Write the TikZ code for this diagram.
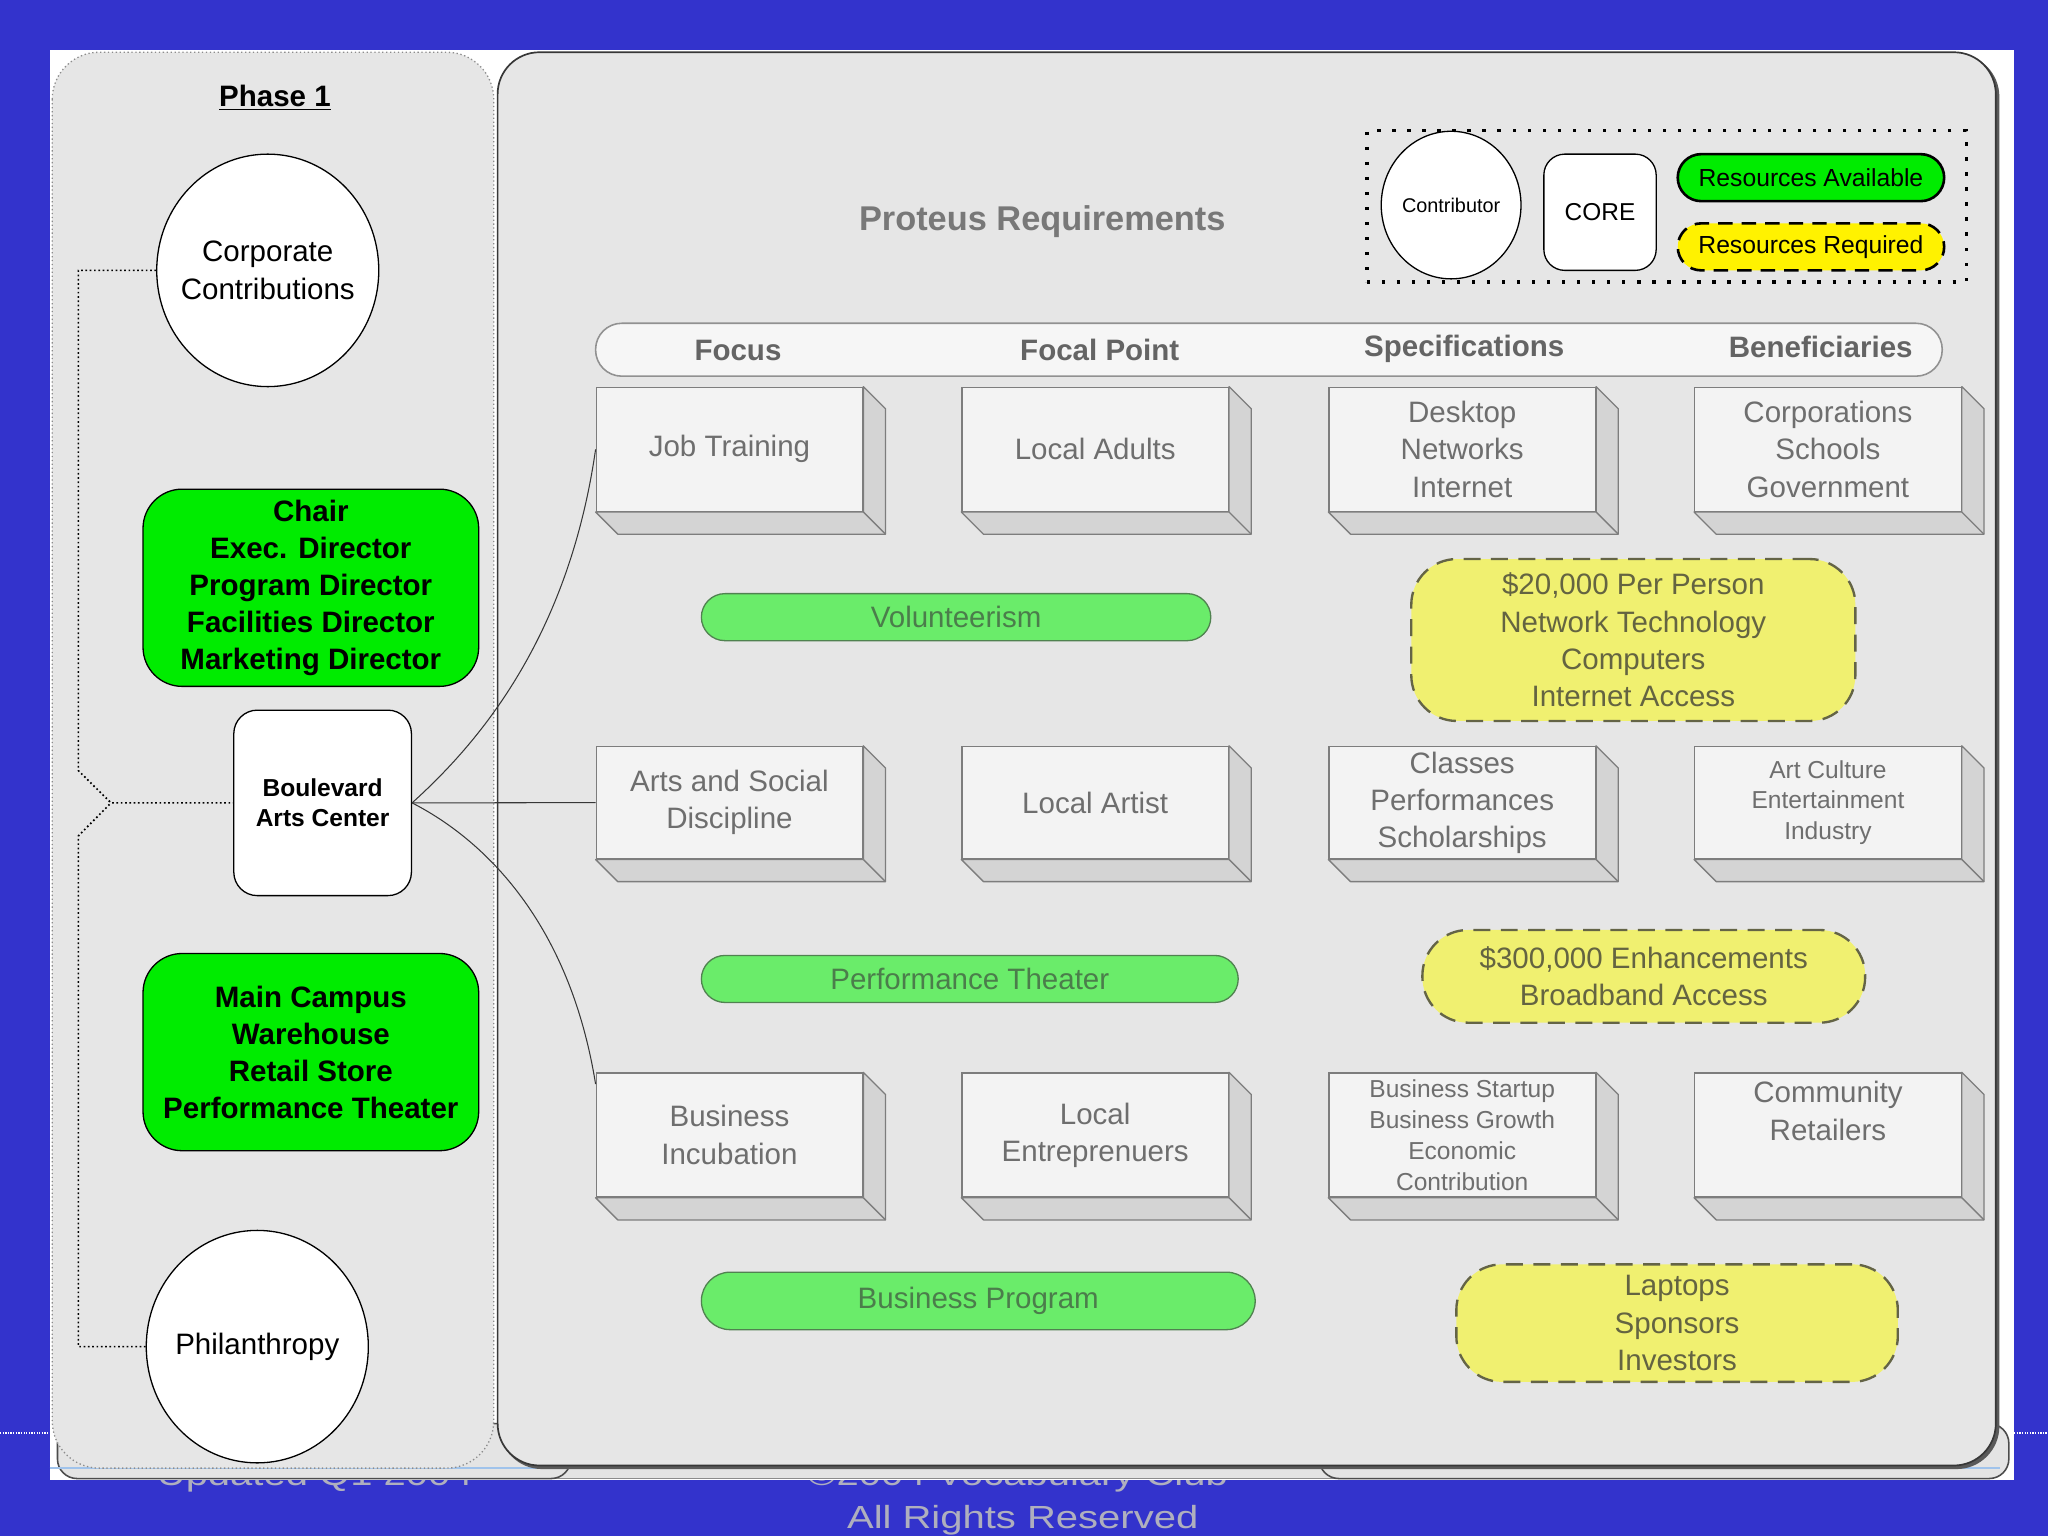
\documentclass[tikz,border=0pt]{standalone}
\usepackage{fontspec}
\setmainfont{Liberation Sans}
\newfontfamily\footfont[FakeStretch=1.25]{Liberation Sans}
\usetikzlibrary{shapes.geometric}
\definecolor{bgblue}{RGB}{51,51,204}
\definecolor{panel}{RGB}{230,230,230}
\definecolor{panelline}{RGB}{55,55,55}
\definecolor{frontc}{RGB}{243,243,243}
\definecolor{sidec}{RGB}{212,212,212}
\definecolor{boxline}{RGB}{125,125,125}
\definecolor{boxtext}{RGB}{110,110,110}
\definecolor{hdrfill}{RGB}{246,246,246}
\definecolor{hdrline}{RGB}{145,145,145}
\definecolor{hdrtext}{RGB}{100,100,100}
\definecolor{strong}{RGB}{0,236,0}
\definecolor{pill}{RGB}{106,236,106}
\definecolor{pillline}{RGB}{80,130,80}
\definecolor{pilltext}{RGB}{75,125,75}
\definecolor{yfill}{RGB}{240,240,112}
\definecolor{yline}{RGB}{100,100,70}
\definecolor{ytext}{RGB}{100,100,65}
\definecolor{foottext}{RGB}{175,175,190}
\definecolor{lightblue}{RGB}{160,195,235}
\definecolor{footbar}{RGB}{228,228,228}
\newcommand{\tdbox}[6]{%
  \node[front, #5, minimum height=#4pt] (#1) at (#2,#3) {#6};
  \filldraw[sidef] (#1.north east) -- ([shift={(17,17)}]#1.north east) -- ([shift={(17,17)}]#1.south east) -- ([shift={(17,17)}]#1.south west) -- (#1.south west) -- (#1.south east) -- cycle;
  \draw[sidef] (#1.south east) -- ([shift={(17,17)}]#1.south east);
}
\begin{document}
\begin{tikzpicture}[x=1pt,y=-1pt,
  every node/.style={inner sep=0pt, align=center},
  contrib/.style={ellipse, draw=black, line width=1pt, fill=white},
  ctext/.style={font=\fontsize{22.6}{28.5}\selectfont},
  greenbox/.style={rectangle, rounded corners=30pt, draw=black, line width=1pt, fill=strong, minimum width=257pt, minimum height=151pt, font=\bfseries\fontsize{22.6}{28.3}\selectfont},
  corebox/.style={rectangle, draw=black, line width=1pt, fill=white},
  front/.style={rectangle, draw=boxline, line width=1pt, fill=frontc, text=boxtext, minimum width=204pt, anchor=north west},
  sidef/.style={fill=sidec, draw=boxline, line width=1pt, line join=round},
  bigtxt/.style={font=\fontsize{22.6}{28.5}\selectfont},
  smalltxt/.style={font=\fontsize{18.8}{23.6}\selectfont},
  pillbox/.style={rectangle, draw=pillline, line width=1pt, fill=pill, text=pilltext, font=\fontsize{22.6}{28.5}\selectfont},
  ybox/.style={rectangle, rounded corners=35pt, draw=yline, fill=yfill, line width=1.8pt, dash pattern=on 13pt off 8pt, text=ytext, font=\fontsize{22.6}{28.5}\selectfont},
  hdrlabel/.style={font=\bfseries\fontsize{22.6}{28.5}\selectfont, text=hdrtext},
  dotline/.style={line width=1.3pt, dash pattern=on 1.3pt off 2pt, draw=black},
  linkline/.style={line width=0.8pt, draw=panelline},
  foot/.style={font=\footfont\fontsize{24.5}{30}\selectfont, text=foottext, anchor=base}]
\useasboundingbox (0,0) rectangle (1568,1176);
\fill[bgblue] (0,0) rectangle (1568,1176);
\draw[white, line width=1.5pt, dash pattern=on 1pt off 1pt] (0,1097) -- (1568,1097);
% footer
\node[foot] (upd) at (241,1137) {Updated Q1 2004};
\node[foot] (cpy) at (779,1137) {\textcopyright2004 Vocabulary Club};
\node[foot] (arr) at (783,1170) {All Rights Reserved};
\fill[white] (38,38) rectangle (1542,1133);
\filldraw[fill=footbar, draw=black!45, line width=1pt] (424,1100) rectangle (1025,1132);
\filldraw[fill=footbar, draw=black!70, line width=1.2pt, rounded corners=15pt] (44,1090) rectangle (437,1132);
\filldraw[fill=footbar, draw=black!70, line width=1.2pt, rounded corners=15pt] (1010,1090) rectangle (1538,1132);
\draw[lightblue, line width=1.2pt] (38,1124) -- (1531,1124);
% panels
\filldraw[fill=panel, draw=black!45, line width=1pt, dash pattern=on 1pt off 2pt, rounded corners=36pt] (40,40) rectangle (378,1124);
\filldraw[fill=black!65, draw=black!65, line width=1.5pt, rounded corners=32pt] (383,42) rectangle (1530,1124);
\filldraw[fill=panel, draw=panelline, line width=1.3pt, rounded corners=32pt] (381,40) rectangle (1528,1122);
% left column
\node[font=\bfseries\fontsize{22.6}{28}\selectfont, anchor=base] (ph1) at (210.5,81.7) {\underline{Phase 1}};
\node[contrib, minimum width=170pt, minimum height=178pt] (cc) at (205,207) {};
\node[ctext] (cct) at (cc.center) {Corporate\\Contributions};
\node[greenbox] (chair) at (238,450) {Chair\\Exec. Director\\Program Director\\Facilities Director\\Marketing Director};
\node[corebox, rounded corners=18pt, minimum width=136pt, minimum height=142pt, font=\bfseries\fontsize{18.8}{23}\selectfont] (bac) at (247,614.7) {Boulevard\\Arts Center};
\node[greenbox] (camp) at (238,805.5) {Main Campus\\Warehouse\\Retail Store\\Performance Theater};
\node[contrib, minimum width=170pt, minimum height=178pt] (phil) at (197,1031) {};
\node[ctext] (philt) at (phil.center) {Philanthropy};
\coordinate (junc) at (85,614.7);
\draw[dotline] (cc.west) -- (60,207) -- (60,590) -- (junc) -- (bac.west);
\draw[dotline] (phil.west) -- (60,1031) -- (60,640) -- (junc);
% title and legend
\node[font=\bfseries\fontsize{26.3}{32}\selectfont, text=black!53] (title) at (798,170) {Proteus Requirements};
\node[rectangle, draw=black, line width=2.8pt, dash pattern=on 2.5pt off 9pt, minimum width=459pt, minimum height=116pt] (legend) at (1276,158) {};
\node[contrib, minimum width=107pt, minimum height=113pt] (lcon) at (1111,157) {};
\node[font=\fontsize{15.2}{18}\selectfont] (lcont) at (lcon.center) {Contributor};
\node[corebox, rounded corners=16pt, minimum width=86pt, minimum height=89pt, font=\fontsize{18.7}{22}\selectfont] (lcore) at (1225,162.5) {CORE};
\node[rectangle, rounded corners=18pt, draw=black, line width=2pt, fill=strong, minimum width=204pt, minimum height=36pt, font=\fontsize{18.9}{22}\selectfont] (lavail) at (1386.5,136) {Resources Available};
\node[rectangle, rounded corners=18pt, draw=black, line width=2pt, dash pattern=on 11pt off 7pt, fill=yellow, minimum width=204pt, minimum height=36pt, font=\fontsize{18.9}{22}\selectfont] (lreq) at (1386.5,189) {Resources Required};
% header bar
\node[rectangle, rounded corners=20pt, draw=hdrline, line width=1.2pt, fill=hdrfill, minimum width=1031pt, minimum height=40.5pt] (hdr) at (971.5,267.75) {};
\node[hdrlabel] (hfocus) at (565,268) {Focus};
\node[hdrlabel] (hfp) at (842,268) {Focal Point};
\node[hdrlabel] (hspec) at (1121,267) {Specifications};
\node[hdrlabel] (hben) at (1394,266) {Beneficiaries};
% 3D boxes
\tdbox{jt}{456}{296}{95}{bigtxt}{Job Training}
\tdbox{la}{736}{296}{95}{bigtxt}{Local Adults}
\tdbox{dni}{1017}{296}{95}{bigtxt}{Desktop\\Networks\\Internet}
\tdbox{csg}{1297}{296}{95}{bigtxt}{Corporations\\Schools\\Government}
\tdbox{asd}{456}{571}{86}{bigtxt}{Arts and Social\\Discipline}
\tdbox{lart}{736}{571}{86}{bigtxt}{Local Artist}
\tdbox{cps}{1017}{571}{86}{bigtxt}{Classes\\Performances\\Scholarships}
\tdbox{ace}{1297}{571}{86}{smalltxt}{Art Culture\\Entertainment\\Industry}
\tdbox{bi}{456}{821}{95}{bigtxt}{Business\\Incubation}
\tdbox{le}{736}{821}{95}{bigtxt}{Local\\Entreprenuers}
\tdbox{bsg}{1017}{821}{95}{smalltxt}{Business Startup\\Business Growth\\Economic\\Contribution}
\tdbox{cr}{1297}{821}{95}{bigtxt}{Community\\Retailers\\\strut}
% pills
\node[pillbox, rounded corners=18pt, minimum width=390pt, minimum height=36pt] (vol) at (732,472.5) {Volunteerism};
\node[pillbox, rounded corners=18pt, minimum width=411pt, minimum height=36pt] (pt) at (742.5,749.5) {Performance Theater};
\node[pillbox, rounded corners=22pt, minimum width=424pt, minimum height=44pt] (bp) at (749,996) {Business Program};
% yellow
\node[ybox, minimum width=340pt, minimum height=124pt] (y1) at (1250.5,490) {\$20,000 Per Person\\Network Technology\\Computers\\Internet Access};
\node[ybox, minimum width=339pt, minimum height=71pt] (y2) at (1258.5,747.5) {\$300,000 Enhancements\\Broadband Access};
\node[ybox, minimum width=338pt, minimum height=90pt] (y3) at (1284,1013) {Laptops\\Sponsors\\Investors};
% links from Boulevard
\coordinate (bitop) at (456,830);
\draw[linkline] (bac.east) .. controls (365,570) and (435,490) .. (jt.west);
\draw[linkline] (bac.east) -- (asd.west);
\draw[linkline] (bac.east) .. controls (365,640) and (435,700) .. (bitop);
\end{tikzpicture}
\end{document}
